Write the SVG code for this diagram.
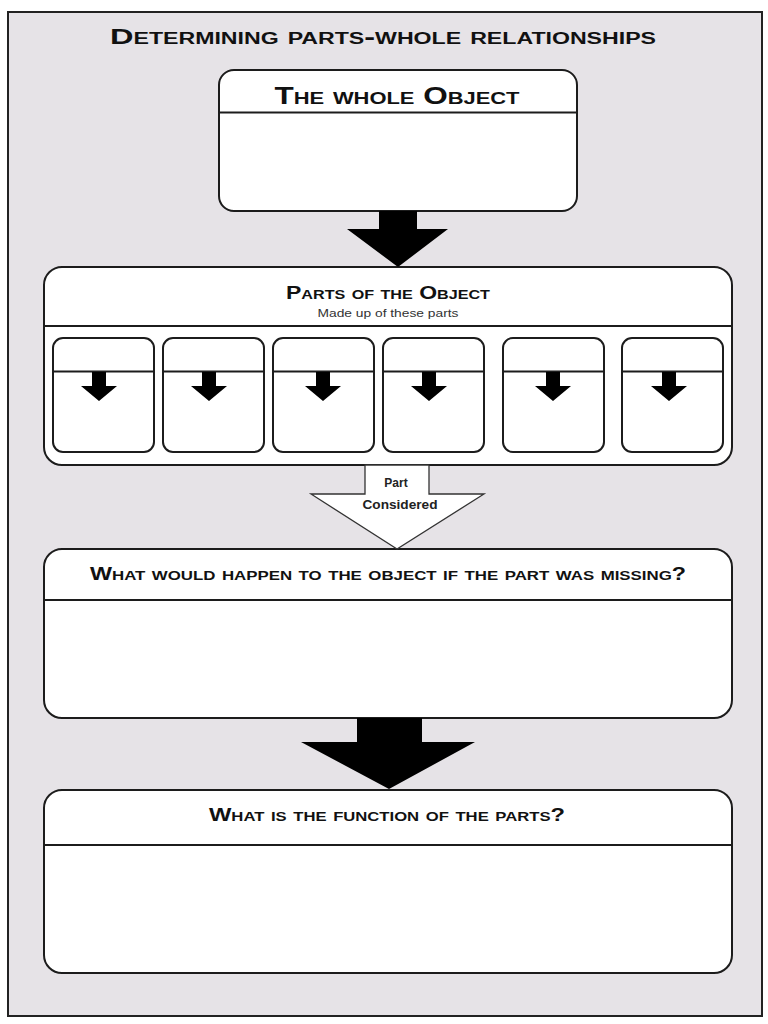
<svg xmlns="http://www.w3.org/2000/svg" width="768" height="1024" viewBox="0 0 768 1024">
<style>
.box{fill:#ffffff;stroke:#1c1c1c;stroke-width:2}
.div{stroke:#1c1c1c;stroke-width:1.8}
.sc{font-family:"Liberation Sans",Arial,sans-serif;font-weight:bold;font-variant:small-caps;fill:#111;text-anchor:middle}
.small{font-family:"Liberation Sans",Arial,sans-serif;fill:#333;text-anchor:middle}
.big{fill:#000}
.tiny{fill:#000}
</style>
<rect x="0" y="0" width="768" height="1024" fill="#ffffff"/>
<rect x="8" y="12" width="754" height="1004" fill="#e6e3e7" stroke="#222" stroke-width="2"/>
<text class="sc" x="383" y="44" font-size="22.5" textLength="546" lengthAdjust="spacingAndGlyphs">Determining parts-whole relationships</text>

<g id="whole-object">
<rect class="box" x="219" y="70" width="358" height="141" rx="15"/>
<line class="div" x1="219" y1="112.5" x2="577" y2="112.5"/>
<text class="sc" x="397" y="104" font-size="23" textLength="245" lengthAdjust="spacingAndGlyphs">The whole Object</text>
</g>

<g id="parts-of-object">
<rect class="box" x="44" y="267" width="688" height="198" rx="18"/>
<line class="div" x1="44" y1="326" x2="732" y2="326"/>
<text class="sc" x="388" y="299" font-size="18.5" textLength="204" lengthAdjust="spacingAndGlyphs">Parts of the Object</text>
<text class="small" x="388" y="317" font-size="10" textLength="141" lengthAdjust="spacingAndGlyphs">Made up of these parts</text>
</g>

<g id="part-1">
<rect class="box" x="53" y="338" width="101" height="114" rx="10"/>
<line class="div" x1="53" y1="371.5" x2="154" y2="371.5"/>
<polygon class="tiny" points="92,372 106,372 106,386 117,386 99,401 81,386 92,386"/>
</g>
<g id="part-2">
<rect class="box" x="163" y="338" width="101" height="114" rx="10"/>
<line class="div" x1="163" y1="371.5" x2="264" y2="371.5"/>
<polygon class="tiny" points="202,372 216,372 216,386 227,386 209,401 191,386 202,386"/>
</g>
<g id="part-3">
<rect class="box" x="273" y="338" width="101" height="114" rx="10"/>
<line class="div" x1="273" y1="371.5" x2="374" y2="371.5"/>
<polygon class="tiny" points="316,372 330,372 330,386 341,386 323,401 305,386 316,386"/>
</g>
<g id="part-4">
<rect class="box" x="383" y="338" width="101" height="114" rx="10"/>
<line class="div" x1="383" y1="371.5" x2="484" y2="371.5"/>
<polygon class="tiny" points="422,372 436,372 436,386 447,386 429,401 411,386 422,386"/>
</g>
<g id="part-5">
<rect class="box" x="503" y="338" width="101" height="114" rx="10"/>
<line class="div" x1="503" y1="371.5" x2="604" y2="371.5"/>
<polygon class="tiny" points="546,372 560,372 560,386 571,386 553,401 535,386 546,386"/>
</g>
<g id="part-6">
<rect class="box" x="622" y="338" width="101" height="114" rx="10"/>
<line class="div" x1="622" y1="371.5" x2="723" y2="371.5"/>
<polygon class="tiny" points="662,372 676,372 676,386 687,386 669,401 651,386 662,386"/>
</g>

<g id="missing">
<rect class="box" x="44" y="549" width="688" height="169" rx="18"/>
<line class="div" x1="44" y1="600" x2="732" y2="600"/>
<text class="sc" x="388" y="579.5" font-size="18" textLength="596" lengthAdjust="spacingAndGlyphs">What would happen to the object if the part was missing?</text>
</g>

<g id="function">
<rect class="box" x="44" y="790" width="688" height="183" rx="18"/>
<line class="div" x1="44" y1="845" x2="732" y2="845"/>
<text class="sc" x="387" y="821" font-size="18.5" textLength="356" lengthAdjust="spacingAndGlyphs">What is the function of the parts?</text>
</g>

<g id="connectors">
<polygon class="big" points="379,211 417,211 417,229 448,229 398,267 347,229 379,229"/>
<g id="part-considered">
<polygon points="365,465 429,465 429,494 484,494 397,549 311,494 365,494" fill="#ffffff" stroke="#333" stroke-width="1.3"/>
<text x="396" y="487" font-family="Liberation Sans,Arial,sans-serif" font-weight="bold" font-size="12" fill="#222" text-anchor="middle">Part</text>
<text x="400" y="509" font-family="Liberation Sans,Arial,sans-serif" font-weight="bold" font-size="12" fill="#222" text-anchor="middle" textLength="75" lengthAdjust="spacingAndGlyphs">Considered</text>
</g>
<polygon class="big" points="357,718 422,718 422,742 475,742 389,789 301,742 357,742"/>
</g>
</svg>
